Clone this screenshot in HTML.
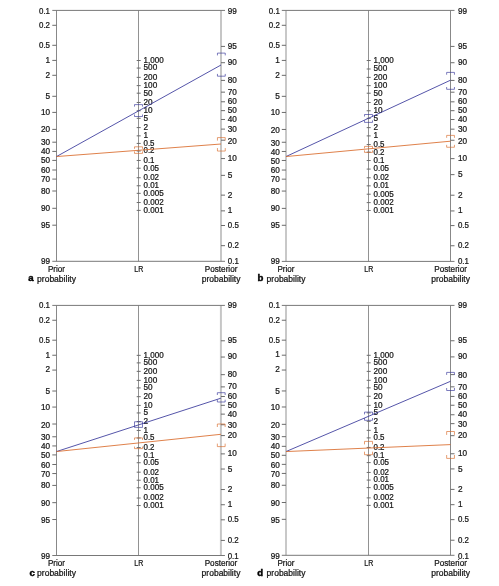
<!DOCTYPE html>
<html lang="en"><head><meta charset="utf-8"><title>Fagan nomograms</title>
<style>
html,body{margin:0;padding:0;background:#fff;}
svg{display:block;}
text{font-family:"Liberation Sans",sans-serif;font-size:8.3px;fill:#161616;stroke:#161616;stroke-width:0.24px;}
text.pl{font-size:9.6px;font-weight:bold;fill:#000;stroke:#000;stroke-width:0.45px;}
</style></head><body>
<svg width="499" height="586" viewBox="0 0 499 586">
<rect width="499" height="586" fill="#fff"/>
<g id="panel-a">
<line x1="56.50" y1="10.40" x2="56.50" y2="261.30" stroke="#888888" stroke-width="1"/>
<line x1="221.00" y1="10.40" x2="221.00" y2="261.30" stroke="#c6c6c6" stroke-width="2"/>
<line x1="138.50" y1="10.40" x2="138.50" y2="261.30" stroke="#929292" stroke-width="1"/>
<line x1="52.30" y1="10.40" x2="225.00" y2="10.40" stroke="#787878" stroke-width="1"/>
<line x1="52.30" y1="261.30" x2="225.00" y2="261.30" stroke="#787878" stroke-width="1"/>
<text x="50.00" y="13.60" text-anchor="end" textLength="11.0" lengthAdjust="spacingAndGlyphs">0.1</text>
<text x="227.80" y="263.70" textLength="11.0" lengthAdjust="spacingAndGlyphs">0.1</text>
<line x1="52.30" y1="25.30" x2="56.50" y2="25.30" stroke="#6c6c6c" stroke-width="1"/>
<text x="50.00" y="27.70" text-anchor="end" textLength="11.0" lengthAdjust="spacingAndGlyphs">0.2</text>
<line x1="221.00" y1="245.66" x2="225.00" y2="245.66" stroke="#6c6c6c" stroke-width="1"/>
<text x="227.80" y="248.06" textLength="11.0" lengthAdjust="spacingAndGlyphs">0.2</text>
<line x1="52.30" y1="45.30" x2="56.50" y2="45.30" stroke="#6c6c6c" stroke-width="1"/>
<text x="50.00" y="47.70" text-anchor="end" textLength="11.0" lengthAdjust="spacingAndGlyphs">0.5</text>
<line x1="221.00" y1="225.50" x2="225.00" y2="225.50" stroke="#6c6c6c" stroke-width="1"/>
<text x="227.80" y="227.90" textLength="11.0" lengthAdjust="spacingAndGlyphs">0.5</text>
<line x1="52.30" y1="60.40" x2="56.50" y2="60.40" stroke="#6c6c6c" stroke-width="1"/>
<text x="50.00" y="62.80" text-anchor="end" textLength="4.6" lengthAdjust="spacingAndGlyphs">1</text>
<line x1="221.00" y1="210.87" x2="225.00" y2="210.87" stroke="#6c6c6c" stroke-width="1"/>
<text x="227.80" y="213.27" textLength="4.6" lengthAdjust="spacingAndGlyphs">1</text>
<line x1="52.30" y1="75.30" x2="56.50" y2="75.30" stroke="#6c6c6c" stroke-width="1"/>
<text x="50.00" y="77.70" text-anchor="end" textLength="4.6" lengthAdjust="spacingAndGlyphs">2</text>
<line x1="221.00" y1="195.13" x2="225.00" y2="195.13" stroke="#6c6c6c" stroke-width="1"/>
<text x="227.80" y="197.53" textLength="4.6" lengthAdjust="spacingAndGlyphs">2</text>
<line x1="52.30" y1="96.30" x2="56.50" y2="96.30" stroke="#6c6c6c" stroke-width="1"/>
<text x="50.00" y="98.70" text-anchor="end" textLength="4.6" lengthAdjust="spacingAndGlyphs">5</text>
<line x1="221.00" y1="175.37" x2="225.00" y2="175.37" stroke="#6c6c6c" stroke-width="1"/>
<text x="227.80" y="178.07" textLength="4.6" lengthAdjust="spacingAndGlyphs">5</text>
<line x1="52.30" y1="112.40" x2="56.50" y2="112.40" stroke="#6c6c6c" stroke-width="1"/>
<text x="50.00" y="114.80" text-anchor="end" textLength="9.1" lengthAdjust="spacingAndGlyphs">10</text>
<line x1="221.00" y1="158.57" x2="225.00" y2="158.57" stroke="#6c6c6c" stroke-width="1"/>
<text x="227.80" y="160.97" textLength="9.1" lengthAdjust="spacingAndGlyphs">10</text>
<line x1="52.30" y1="129.40" x2="56.50" y2="129.40" stroke="#6c6c6c" stroke-width="1"/>
<text x="50.00" y="132.30" text-anchor="end" textLength="9.1" lengthAdjust="spacingAndGlyphs">20</text>
<line x1="221.00" y1="140.20" x2="225.00" y2="140.20" stroke="#6c6c6c" stroke-width="1"/>
<text x="227.80" y="143.90" textLength="9.1" lengthAdjust="spacingAndGlyphs">20</text>
<line x1="52.30" y1="142.20" x2="56.50" y2="142.20" stroke="#6c6c6c" stroke-width="1"/>
<text x="50.00" y="145.10" text-anchor="end" textLength="9.1" lengthAdjust="spacingAndGlyphs">30</text>
<line x1="221.00" y1="129.12" x2="225.00" y2="129.12" stroke="#6c6c6c" stroke-width="1"/>
<text x="227.80" y="131.82" textLength="9.1" lengthAdjust="spacingAndGlyphs">30</text>
<line x1="52.30" y1="151.40" x2="56.50" y2="151.40" stroke="#6c6c6c" stroke-width="1"/>
<text x="50.00" y="154.30" text-anchor="end" textLength="9.1" lengthAdjust="spacingAndGlyphs">40</text>
<line x1="221.00" y1="119.48" x2="225.00" y2="119.48" stroke="#6c6c6c" stroke-width="1"/>
<text x="227.80" y="121.88" textLength="9.1" lengthAdjust="spacingAndGlyphs">40</text>
<line x1="52.30" y1="160.40" x2="56.50" y2="160.40" stroke="#6c6c6c" stroke-width="1"/>
<text x="50.00" y="163.30" text-anchor="end" textLength="9.1" lengthAdjust="spacingAndGlyphs">50</text>
<line x1="221.00" y1="110.64" x2="225.00" y2="110.64" stroke="#6c6c6c" stroke-width="1"/>
<text x="227.80" y="113.04" textLength="9.1" lengthAdjust="spacingAndGlyphs">50</text>
<line x1="52.30" y1="170.00" x2="56.50" y2="170.00" stroke="#6c6c6c" stroke-width="1"/>
<text x="50.00" y="172.90" text-anchor="end" textLength="9.1" lengthAdjust="spacingAndGlyphs">60</text>
<line x1="221.00" y1="101.79" x2="225.00" y2="101.79" stroke="#6c6c6c" stroke-width="1"/>
<text x="227.80" y="104.19" textLength="9.1" lengthAdjust="spacingAndGlyphs">60</text>
<line x1="52.30" y1="179.10" x2="56.50" y2="179.10" stroke="#6c6c6c" stroke-width="1"/>
<text x="50.00" y="182.00" text-anchor="end" textLength="9.1" lengthAdjust="spacingAndGlyphs">70</text>
<line x1="221.00" y1="92.15" x2="225.00" y2="92.15" stroke="#6c6c6c" stroke-width="1"/>
<text x="227.80" y="94.55" textLength="9.1" lengthAdjust="spacingAndGlyphs">70</text>
<line x1="52.30" y1="191.00" x2="56.50" y2="191.00" stroke="#6c6c6c" stroke-width="1"/>
<text x="50.00" y="193.70" text-anchor="end" textLength="9.1" lengthAdjust="spacingAndGlyphs">80</text>
<line x1="221.00" y1="80.40" x2="225.00" y2="80.40" stroke="#6c6c6c" stroke-width="1"/>
<text x="227.80" y="82.80" textLength="9.1" lengthAdjust="spacingAndGlyphs">80</text>
<line x1="52.30" y1="208.30" x2="56.50" y2="208.30" stroke="#6c6c6c" stroke-width="1"/>
<text x="50.00" y="210.70" text-anchor="end" textLength="9.1" lengthAdjust="spacingAndGlyphs">90</text>
<line x1="221.00" y1="62.71" x2="225.00" y2="62.71" stroke="#6c6c6c" stroke-width="1"/>
<text x="227.80" y="65.11" textLength="9.1" lengthAdjust="spacingAndGlyphs">90</text>
<line x1="52.30" y1="225.20" x2="56.50" y2="225.20" stroke="#6c6c6c" stroke-width="1"/>
<text x="50.00" y="227.60" text-anchor="end" textLength="9.1" lengthAdjust="spacingAndGlyphs">95</text>
<line x1="221.00" y1="46.41" x2="225.00" y2="46.41" stroke="#6c6c6c" stroke-width="1"/>
<text x="227.80" y="48.81" textLength="9.1" lengthAdjust="spacingAndGlyphs">95</text>
<text x="50.00" y="263.70" text-anchor="end" textLength="9.1" lengthAdjust="spacingAndGlyphs">99</text>
<text x="227.80" y="13.80" textLength="9.1" lengthAdjust="spacingAndGlyphs">99</text>
<line x1="136.70" y1="60.51" x2="140.70" y2="60.51" stroke="#6c6c6c" stroke-width="1"/>
<text x="143.50" y="62.91" textLength="20.1" lengthAdjust="spacingAndGlyphs">1,000</text>
<line x1="136.70" y1="68.07" x2="140.70" y2="68.07" stroke="#6c6c6c" stroke-width="1"/>
<text x="143.50" y="70.47" textLength="13.7" lengthAdjust="spacingAndGlyphs">500</text>
<line x1="136.70" y1="77.36" x2="140.70" y2="77.36" stroke="#6c6c6c" stroke-width="1"/>
<text x="143.50" y="79.76" textLength="13.7" lengthAdjust="spacingAndGlyphs">200</text>
<line x1="136.70" y1="85.62" x2="140.70" y2="85.62" stroke="#6c6c6c" stroke-width="1"/>
<text x="143.50" y="88.02" textLength="13.7" lengthAdjust="spacingAndGlyphs">100</text>
<line x1="136.70" y1="93.18" x2="140.70" y2="93.18" stroke="#6c6c6c" stroke-width="1"/>
<text x="143.50" y="95.58" textLength="9.1" lengthAdjust="spacingAndGlyphs">50</text>
<line x1="136.70" y1="102.48" x2="140.70" y2="102.48" stroke="#6c6c6c" stroke-width="1"/>
<text x="143.50" y="104.88" textLength="9.1" lengthAdjust="spacingAndGlyphs">20</text>
<line x1="136.70" y1="110.74" x2="140.70" y2="110.74" stroke="#6c6c6c" stroke-width="1"/>
<text x="143.50" y="113.14" textLength="9.1" lengthAdjust="spacingAndGlyphs">10</text>
<line x1="136.70" y1="118.30" x2="140.70" y2="118.30" stroke="#6c6c6c" stroke-width="1"/>
<text x="143.50" y="120.70" textLength="4.6" lengthAdjust="spacingAndGlyphs">5</text>
<line x1="136.70" y1="127.59" x2="140.70" y2="127.59" stroke="#6c6c6c" stroke-width="1"/>
<text x="143.50" y="129.99" textLength="4.6" lengthAdjust="spacingAndGlyphs">2</text>
<line x1="136.70" y1="135.85" x2="140.70" y2="135.85" stroke="#6c6c6c" stroke-width="1"/>
<text x="143.50" y="138.25" textLength="4.6" lengthAdjust="spacingAndGlyphs">1</text>
<line x1="136.70" y1="143.41" x2="140.70" y2="143.41" stroke="#6c6c6c" stroke-width="1"/>
<text x="143.50" y="145.81" textLength="11.0" lengthAdjust="spacingAndGlyphs">0.5</text>
<line x1="136.70" y1="151.00" x2="140.70" y2="151.00" stroke="#6c6c6c" stroke-width="1"/>
<text x="143.50" y="153.40" textLength="11.0" lengthAdjust="spacingAndGlyphs">0.2</text>
<line x1="136.70" y1="160.46" x2="140.70" y2="160.46" stroke="#6c6c6c" stroke-width="1"/>
<text x="143.50" y="162.86" textLength="11.0" lengthAdjust="spacingAndGlyphs">0.1</text>
<line x1="136.70" y1="168.22" x2="140.70" y2="168.22" stroke="#6c6c6c" stroke-width="1"/>
<text x="143.50" y="170.62" textLength="15.5" lengthAdjust="spacingAndGlyphs">0.05</text>
<line x1="136.70" y1="177.72" x2="140.70" y2="177.72" stroke="#6c6c6c" stroke-width="1"/>
<text x="143.50" y="180.12" textLength="15.5" lengthAdjust="spacingAndGlyphs">0.02</text>
<line x1="136.70" y1="185.78" x2="140.70" y2="185.78" stroke="#6c6c6c" stroke-width="1"/>
<text x="143.50" y="188.18" textLength="15.5" lengthAdjust="spacingAndGlyphs">0.01</text>
<line x1="136.70" y1="193.34" x2="140.70" y2="193.34" stroke="#6c6c6c" stroke-width="1"/>
<text x="143.50" y="195.74" textLength="20.1" lengthAdjust="spacingAndGlyphs">0.005</text>
<line x1="136.70" y1="202.53" x2="140.70" y2="202.53" stroke="#6c6c6c" stroke-width="1"/>
<text x="143.50" y="204.93" textLength="20.1" lengthAdjust="spacingAndGlyphs">0.002</text>
<line x1="136.70" y1="210.39" x2="140.70" y2="210.39" stroke="#6c6c6c" stroke-width="1"/>
<text x="143.50" y="212.79" textLength="20.1" lengthAdjust="spacingAndGlyphs">0.001</text>
<line x1="56.50" y1="156.55" x2="221.00" y2="65.00" stroke="#36369a" stroke-width="0.85"/>
<line x1="56.50" y1="156.55" x2="221.00" y2="144.00" stroke="#d96a2a" stroke-width="0.85"/>
<path d="M134.50 106.60V104.60H142.50V106.60M134.50 114.50V116.50H142.50V114.50" fill="none" stroke="#36369a" stroke-width="0.65"/>
<path d="M134.50 148.80V146.80H142.50V148.80M134.50 151.40V153.40H142.50V151.40" fill="none" stroke="#d96a2a" stroke-width="0.65"/>
<path d="M217.45 55.40V53.10H225.25V55.40M217.45 73.90V76.20H225.25V73.90" fill="none" stroke="#36369a" stroke-width="0.65"/>
<path d="M217.45 140.60V137.60H225.25V140.60M217.45 148.05V151.05H225.25V148.05" fill="none" stroke="#d96a2a" stroke-width="0.65"/>
<text x="56.50" y="271.80" text-anchor="middle" textLength="17.1" lengthAdjust="spacingAndGlyphs">Prior</text>
<text x="56.50" y="281.80" text-anchor="middle" textLength="38.9" lengthAdjust="spacingAndGlyphs">probability</text>
<text x="138.80" y="271.80" text-anchor="middle" textLength="9.0" lengthAdjust="spacingAndGlyphs">LR</text>
<text x="221.10" y="271.70" text-anchor="middle" textLength="32.7" lengthAdjust="spacingAndGlyphs">Posterior</text>
<text x="221.10" y="281.60" text-anchor="middle" textLength="38.8" lengthAdjust="spacingAndGlyphs">probability</text>
<text x="28.20" y="280.80" class="pl">a</text>
</g>
<g id="panel-b">
<line x1="286.00" y1="10.40" x2="286.00" y2="261.40" stroke="#c6c6c6" stroke-width="1.9"/>
<line x1="450.50" y1="10.40" x2="450.50" y2="261.40" stroke="#888888" stroke-width="1"/>
<line x1="368.50" y1="10.40" x2="368.50" y2="261.40" stroke="#929292" stroke-width="1"/>
<line x1="281.80" y1="10.40" x2="454.50" y2="10.40" stroke="#787878" stroke-width="1"/>
<line x1="281.80" y1="261.40" x2="454.50" y2="261.40" stroke="#787878" stroke-width="1"/>
<text x="279.80" y="13.60" text-anchor="end" textLength="11.0" lengthAdjust="spacingAndGlyphs">0.1</text>
<text x="457.90" y="263.80" textLength="11.0" lengthAdjust="spacingAndGlyphs">0.1</text>
<line x1="281.80" y1="25.31" x2="286.00" y2="25.31" stroke="#6c6c6c" stroke-width="1"/>
<text x="279.80" y="27.71" text-anchor="end" textLength="11.0" lengthAdjust="spacingAndGlyphs">0.2</text>
<line x1="450.50" y1="245.75" x2="454.50" y2="245.75" stroke="#6c6c6c" stroke-width="1"/>
<text x="457.90" y="248.15" textLength="11.0" lengthAdjust="spacingAndGlyphs">0.2</text>
<line x1="281.80" y1="45.31" x2="286.00" y2="45.31" stroke="#6c6c6c" stroke-width="1"/>
<text x="279.80" y="47.71" text-anchor="end" textLength="11.0" lengthAdjust="spacingAndGlyphs">0.5</text>
<line x1="450.50" y1="225.59" x2="454.50" y2="225.59" stroke="#6c6c6c" stroke-width="1"/>
<text x="457.90" y="227.99" textLength="11.0" lengthAdjust="spacingAndGlyphs">0.5</text>
<line x1="281.80" y1="60.42" x2="286.00" y2="60.42" stroke="#6c6c6c" stroke-width="1"/>
<text x="279.80" y="62.82" text-anchor="end" textLength="4.6" lengthAdjust="spacingAndGlyphs">1</text>
<line x1="450.50" y1="210.95" x2="454.50" y2="210.95" stroke="#6c6c6c" stroke-width="1"/>
<text x="457.90" y="213.35" textLength="4.6" lengthAdjust="spacingAndGlyphs">1</text>
<line x1="281.80" y1="75.33" x2="286.00" y2="75.33" stroke="#6c6c6c" stroke-width="1"/>
<text x="279.80" y="77.73" text-anchor="end" textLength="4.6" lengthAdjust="spacingAndGlyphs">2</text>
<line x1="450.50" y1="195.21" x2="454.50" y2="195.21" stroke="#6c6c6c" stroke-width="1"/>
<text x="457.90" y="197.61" textLength="4.6" lengthAdjust="spacingAndGlyphs">2</text>
<line x1="281.80" y1="96.33" x2="286.00" y2="96.33" stroke="#6c6c6c" stroke-width="1"/>
<text x="279.80" y="98.73" text-anchor="end" textLength="4.6" lengthAdjust="spacingAndGlyphs">5</text>
<line x1="450.50" y1="174.63" x2="454.50" y2="174.63" stroke="#6c6c6c" stroke-width="1"/>
<text x="457.90" y="177.33" textLength="4.6" lengthAdjust="spacingAndGlyphs">5</text>
<line x1="281.80" y1="112.44" x2="286.00" y2="112.44" stroke="#6c6c6c" stroke-width="1"/>
<text x="279.80" y="114.84" text-anchor="end" textLength="9.1" lengthAdjust="spacingAndGlyphs">10</text>
<line x1="450.50" y1="158.63" x2="454.50" y2="158.63" stroke="#6c6c6c" stroke-width="1"/>
<text x="457.90" y="161.03" textLength="9.1" lengthAdjust="spacingAndGlyphs">10</text>
<line x1="281.80" y1="129.45" x2="286.00" y2="129.45" stroke="#6c6c6c" stroke-width="1"/>
<text x="279.80" y="132.75" text-anchor="end" textLength="9.1" lengthAdjust="spacingAndGlyphs">20</text>
<line x1="450.50" y1="140.25" x2="454.50" y2="140.25" stroke="#6c6c6c" stroke-width="1"/>
<text x="457.90" y="143.95" textLength="9.1" lengthAdjust="spacingAndGlyphs">20</text>
<line x1="281.80" y1="142.25" x2="286.00" y2="142.25" stroke="#6c6c6c" stroke-width="1"/>
<text x="279.80" y="145.55" text-anchor="end" textLength="9.1" lengthAdjust="spacingAndGlyphs">30</text>
<line x1="450.50" y1="129.17" x2="454.50" y2="129.17" stroke="#6c6c6c" stroke-width="1"/>
<text x="457.90" y="131.87" textLength="9.1" lengthAdjust="spacingAndGlyphs">30</text>
<line x1="281.80" y1="151.46" x2="286.00" y2="151.46" stroke="#6c6c6c" stroke-width="1"/>
<text x="279.80" y="154.76" text-anchor="end" textLength="9.1" lengthAdjust="spacingAndGlyphs">40</text>
<line x1="450.50" y1="119.53" x2="454.50" y2="119.53" stroke="#6c6c6c" stroke-width="1"/>
<text x="457.90" y="121.93" textLength="9.1" lengthAdjust="spacingAndGlyphs">40</text>
<line x1="281.80" y1="160.46" x2="286.00" y2="160.46" stroke="#6c6c6c" stroke-width="1"/>
<text x="279.80" y="163.76" text-anchor="end" textLength="9.1" lengthAdjust="spacingAndGlyphs">50</text>
<line x1="450.50" y1="110.68" x2="454.50" y2="110.68" stroke="#6c6c6c" stroke-width="1"/>
<text x="457.90" y="113.08" textLength="9.1" lengthAdjust="spacingAndGlyphs">50</text>
<line x1="281.80" y1="170.06" x2="286.00" y2="170.06" stroke="#6c6c6c" stroke-width="1"/>
<text x="279.80" y="173.36" text-anchor="end" textLength="9.1" lengthAdjust="spacingAndGlyphs">60</text>
<line x1="450.50" y1="101.83" x2="454.50" y2="101.83" stroke="#6c6c6c" stroke-width="1"/>
<text x="457.90" y="104.23" textLength="9.1" lengthAdjust="spacingAndGlyphs">60</text>
<line x1="281.80" y1="179.17" x2="286.00" y2="179.17" stroke="#6c6c6c" stroke-width="1"/>
<text x="279.80" y="182.47" text-anchor="end" textLength="9.1" lengthAdjust="spacingAndGlyphs">70</text>
<line x1="450.50" y1="92.19" x2="454.50" y2="92.19" stroke="#6c6c6c" stroke-width="1"/>
<text x="457.90" y="94.59" textLength="9.1" lengthAdjust="spacingAndGlyphs">70</text>
<line x1="281.80" y1="191.07" x2="286.00" y2="191.07" stroke="#6c6c6c" stroke-width="1"/>
<text x="279.80" y="193.77" text-anchor="end" textLength="9.1" lengthAdjust="spacingAndGlyphs">80</text>
<line x1="450.50" y1="80.42" x2="454.50" y2="80.42" stroke="#6c6c6c" stroke-width="1"/>
<text x="457.90" y="82.82" textLength="9.1" lengthAdjust="spacingAndGlyphs">80</text>
<line x1="281.80" y1="208.38" x2="286.00" y2="208.38" stroke="#6c6c6c" stroke-width="1"/>
<text x="279.80" y="210.78" text-anchor="end" textLength="9.1" lengthAdjust="spacingAndGlyphs">90</text>
<line x1="450.50" y1="62.73" x2="454.50" y2="62.73" stroke="#6c6c6c" stroke-width="1"/>
<text x="457.90" y="65.13" textLength="9.1" lengthAdjust="spacingAndGlyphs">90</text>
<line x1="281.80" y1="225.29" x2="286.00" y2="225.29" stroke="#6c6c6c" stroke-width="1"/>
<text x="279.80" y="227.69" text-anchor="end" textLength="9.1" lengthAdjust="spacingAndGlyphs">95</text>
<line x1="450.50" y1="46.42" x2="454.50" y2="46.42" stroke="#6c6c6c" stroke-width="1"/>
<text x="457.90" y="48.82" textLength="9.1" lengthAdjust="spacingAndGlyphs">95</text>
<text x="279.80" y="263.80" text-anchor="end" textLength="9.1" lengthAdjust="spacingAndGlyphs">99</text>
<text x="457.90" y="13.80" textLength="9.1" lengthAdjust="spacingAndGlyphs">99</text>
<line x1="366.70" y1="60.53" x2="370.70" y2="60.53" stroke="#6c6c6c" stroke-width="1"/>
<text x="373.50" y="62.93" textLength="20.1" lengthAdjust="spacingAndGlyphs">1,000</text>
<line x1="366.70" y1="68.99" x2="370.70" y2="68.99" stroke="#6c6c6c" stroke-width="1"/>
<text x="373.50" y="71.39" textLength="13.7" lengthAdjust="spacingAndGlyphs">500</text>
<line x1="366.70" y1="77.39" x2="370.70" y2="77.39" stroke="#6c6c6c" stroke-width="1"/>
<text x="373.50" y="79.79" textLength="13.7" lengthAdjust="spacingAndGlyphs">200</text>
<line x1="366.70" y1="85.65" x2="370.70" y2="85.65" stroke="#6c6c6c" stroke-width="1"/>
<text x="373.50" y="88.05" textLength="13.7" lengthAdjust="spacingAndGlyphs">100</text>
<line x1="366.70" y1="93.21" x2="370.70" y2="93.21" stroke="#6c6c6c" stroke-width="1"/>
<text x="373.50" y="95.61" textLength="9.1" lengthAdjust="spacingAndGlyphs">50</text>
<line x1="366.70" y1="102.51" x2="370.70" y2="102.51" stroke="#6c6c6c" stroke-width="1"/>
<text x="373.50" y="104.91" textLength="9.1" lengthAdjust="spacingAndGlyphs">20</text>
<line x1="366.70" y1="110.78" x2="370.70" y2="110.78" stroke="#6c6c6c" stroke-width="1"/>
<text x="373.50" y="113.18" textLength="9.1" lengthAdjust="spacingAndGlyphs">10</text>
<line x1="366.70" y1="118.34" x2="370.70" y2="118.34" stroke="#6c6c6c" stroke-width="1"/>
<text x="373.50" y="120.74" textLength="4.6" lengthAdjust="spacingAndGlyphs">5</text>
<line x1="366.70" y1="127.64" x2="370.70" y2="127.64" stroke="#6c6c6c" stroke-width="1"/>
<text x="373.50" y="130.04" textLength="4.6" lengthAdjust="spacingAndGlyphs">2</text>
<line x1="366.70" y1="135.90" x2="370.70" y2="135.90" stroke="#6c6c6c" stroke-width="1"/>
<text x="373.50" y="138.30" textLength="4.6" lengthAdjust="spacingAndGlyphs">1</text>
<line x1="366.70" y1="144.56" x2="370.70" y2="144.56" stroke="#6c6c6c" stroke-width="1"/>
<text x="373.50" y="146.96" textLength="11.0" lengthAdjust="spacingAndGlyphs">0.5</text>
<line x1="366.70" y1="152.16" x2="370.70" y2="152.16" stroke="#6c6c6c" stroke-width="1"/>
<text x="373.50" y="154.56" textLength="11.0" lengthAdjust="spacingAndGlyphs">0.2</text>
<line x1="366.70" y1="160.52" x2="370.70" y2="160.52" stroke="#6c6c6c" stroke-width="1"/>
<text x="373.50" y="162.92" textLength="11.0" lengthAdjust="spacingAndGlyphs">0.1</text>
<line x1="366.70" y1="169.09" x2="370.70" y2="169.09" stroke="#6c6c6c" stroke-width="1"/>
<text x="373.50" y="171.49" textLength="15.5" lengthAdjust="spacingAndGlyphs">0.05</text>
<line x1="366.70" y1="177.78" x2="370.70" y2="177.78" stroke="#6c6c6c" stroke-width="1"/>
<text x="373.50" y="180.18" textLength="15.5" lengthAdjust="spacingAndGlyphs">0.02</text>
<line x1="366.70" y1="185.85" x2="370.70" y2="185.85" stroke="#6c6c6c" stroke-width="1"/>
<text x="373.50" y="188.25" textLength="15.5" lengthAdjust="spacingAndGlyphs">0.01</text>
<line x1="366.70" y1="194.21" x2="370.70" y2="194.21" stroke="#6c6c6c" stroke-width="1"/>
<text x="373.50" y="196.61" textLength="20.1" lengthAdjust="spacingAndGlyphs">0.005</text>
<line x1="366.70" y1="202.61" x2="370.70" y2="202.61" stroke="#6c6c6c" stroke-width="1"/>
<text x="373.50" y="205.01" textLength="20.1" lengthAdjust="spacingAndGlyphs">0.002</text>
<line x1="366.70" y1="210.47" x2="370.70" y2="210.47" stroke="#6c6c6c" stroke-width="1"/>
<text x="373.50" y="212.87" textLength="20.1" lengthAdjust="spacingAndGlyphs">0.001</text>
<line x1="286.00" y1="156.55" x2="450.50" y2="80.20" stroke="#36369a" stroke-width="0.85"/>
<line x1="286.00" y1="156.55" x2="450.50" y2="141.20" stroke="#d96a2a" stroke-width="0.85"/>
<path d="M364.50 116.50V114.50H372.50V116.50M364.50 120.40V122.40H372.50V120.40" fill="none" stroke="#36369a" stroke-width="0.65"/>
<path d="M364.50 148.40V146.40H372.50V148.40M364.50 150.40V152.40H372.50V150.40" fill="none" stroke="#d96a2a" stroke-width="0.65"/>
<path d="M446.65 74.70V72.40H454.45V74.70M446.65 87.00V89.30H454.45V87.00" fill="none" stroke="#36369a" stroke-width="0.65"/>
<path d="M446.65 137.80V135.40H454.45V137.80M446.65 144.85V147.25H454.45V144.85" fill="none" stroke="#d96a2a" stroke-width="0.65"/>
<text x="286.00" y="271.90" text-anchor="middle" textLength="17.1" lengthAdjust="spacingAndGlyphs">Prior</text>
<text x="286.00" y="281.90" text-anchor="middle" textLength="38.9" lengthAdjust="spacingAndGlyphs">probability</text>
<text x="368.80" y="271.90" text-anchor="middle" textLength="9.0" lengthAdjust="spacingAndGlyphs">LR</text>
<text x="450.60" y="271.80" text-anchor="middle" textLength="32.7" lengthAdjust="spacingAndGlyphs">Posterior</text>
<text x="450.60" y="281.70" text-anchor="middle" textLength="38.8" lengthAdjust="spacingAndGlyphs">probability</text>
<text x="257.40" y="280.80" class="pl">b</text>
</g>
<g id="panel-c">
<line x1="56.50" y1="305.40" x2="56.50" y2="555.50" stroke="#888888" stroke-width="1"/>
<line x1="220.90" y1="305.40" x2="220.90" y2="555.50" stroke="#c6c6c6" stroke-width="2"/>
<line x1="138.50" y1="305.40" x2="138.50" y2="555.50" stroke="#929292" stroke-width="1"/>
<line x1="52.30" y1="305.40" x2="224.90" y2="305.40" stroke="#787878" stroke-width="1"/>
<line x1="52.30" y1="555.50" x2="224.90" y2="555.50" stroke="#787878" stroke-width="1"/>
<text x="50.00" y="307.60" text-anchor="end" textLength="11.0" lengthAdjust="spacingAndGlyphs">0.1</text>
<text x="227.70" y="558.70" textLength="11.0" lengthAdjust="spacingAndGlyphs">0.1</text>
<line x1="52.30" y1="320.25" x2="56.50" y2="320.25" stroke="#6c6c6c" stroke-width="1"/>
<text x="50.00" y="322.65" text-anchor="end" textLength="11.0" lengthAdjust="spacingAndGlyphs">0.2</text>
<line x1="220.90" y1="540.41" x2="224.90" y2="540.41" stroke="#6c6c6c" stroke-width="1"/>
<text x="227.70" y="542.81" textLength="11.0" lengthAdjust="spacingAndGlyphs">0.2</text>
<line x1="52.30" y1="340.19" x2="56.50" y2="340.19" stroke="#6c6c6c" stroke-width="1"/>
<text x="50.00" y="342.59" text-anchor="end" textLength="11.0" lengthAdjust="spacingAndGlyphs">0.5</text>
<line x1="220.90" y1="519.82" x2="224.90" y2="519.82" stroke="#6c6c6c" stroke-width="1"/>
<text x="227.70" y="522.22" textLength="11.0" lengthAdjust="spacingAndGlyphs">0.5</text>
<line x1="52.30" y1="355.24" x2="56.50" y2="355.24" stroke="#6c6c6c" stroke-width="1"/>
<text x="50.00" y="357.64" text-anchor="end" textLength="4.6" lengthAdjust="spacingAndGlyphs">1</text>
<line x1="220.90" y1="504.74" x2="224.90" y2="504.74" stroke="#6c6c6c" stroke-width="1"/>
<text x="227.70" y="507.14" textLength="4.6" lengthAdjust="spacingAndGlyphs">1</text>
<line x1="52.30" y1="370.09" x2="56.50" y2="370.09" stroke="#6c6c6c" stroke-width="1"/>
<text x="50.00" y="372.49" text-anchor="end" textLength="4.6" lengthAdjust="spacingAndGlyphs">2</text>
<line x1="220.90" y1="489.54" x2="224.90" y2="489.54" stroke="#6c6c6c" stroke-width="1"/>
<text x="227.70" y="491.94" textLength="4.6" lengthAdjust="spacingAndGlyphs">2</text>
<line x1="52.30" y1="391.03" x2="56.50" y2="391.03" stroke="#6c6c6c" stroke-width="1"/>
<text x="50.00" y="394.23" text-anchor="end" textLength="4.6" lengthAdjust="spacingAndGlyphs">5</text>
<line x1="220.90" y1="469.04" x2="224.90" y2="469.04" stroke="#6c6c6c" stroke-width="1"/>
<text x="227.70" y="471.74" textLength="4.6" lengthAdjust="spacingAndGlyphs">5</text>
<line x1="52.30" y1="407.07" x2="56.50" y2="407.07" stroke="#6c6c6c" stroke-width="1"/>
<text x="50.00" y="410.27" text-anchor="end" textLength="9.1" lengthAdjust="spacingAndGlyphs">10</text>
<line x1="220.90" y1="453.89" x2="224.90" y2="453.89" stroke="#6c6c6c" stroke-width="1"/>
<text x="227.70" y="456.29" textLength="9.1" lengthAdjust="spacingAndGlyphs">10</text>
<line x1="52.30" y1="424.02" x2="56.50" y2="424.02" stroke="#6c6c6c" stroke-width="1"/>
<text x="50.00" y="427.52" text-anchor="end" textLength="9.1" lengthAdjust="spacingAndGlyphs">20</text>
<line x1="220.90" y1="435.59" x2="224.90" y2="435.59" stroke="#6c6c6c" stroke-width="1"/>
<text x="227.70" y="438.49" textLength="9.1" lengthAdjust="spacingAndGlyphs">20</text>
<line x1="52.30" y1="436.78" x2="56.50" y2="436.78" stroke="#6c6c6c" stroke-width="1"/>
<text x="50.00" y="440.08" text-anchor="end" textLength="9.1" lengthAdjust="spacingAndGlyphs">30</text>
<line x1="220.90" y1="424.74" x2="224.90" y2="424.74" stroke="#6c6c6c" stroke-width="1"/>
<text x="227.70" y="427.74" textLength="9.1" lengthAdjust="spacingAndGlyphs">30</text>
<line x1="52.30" y1="445.95" x2="56.50" y2="445.95" stroke="#6c6c6c" stroke-width="1"/>
<text x="50.00" y="449.25" text-anchor="end" textLength="9.1" lengthAdjust="spacingAndGlyphs">40</text>
<line x1="220.90" y1="414.13" x2="224.90" y2="414.13" stroke="#6c6c6c" stroke-width="1"/>
<text x="227.70" y="416.53" textLength="9.1" lengthAdjust="spacingAndGlyphs">40</text>
<line x1="52.30" y1="454.92" x2="56.50" y2="454.92" stroke="#6c6c6c" stroke-width="1"/>
<text x="50.00" y="458.22" text-anchor="end" textLength="9.1" lengthAdjust="spacingAndGlyphs">50</text>
<line x1="220.90" y1="405.32" x2="224.90" y2="405.32" stroke="#6c6c6c" stroke-width="1"/>
<text x="227.70" y="407.72" textLength="9.1" lengthAdjust="spacingAndGlyphs">50</text>
<line x1="52.30" y1="464.49" x2="56.50" y2="464.49" stroke="#6c6c6c" stroke-width="1"/>
<text x="50.00" y="467.79" text-anchor="end" textLength="9.1" lengthAdjust="spacingAndGlyphs">60</text>
<line x1="220.90" y1="396.50" x2="224.90" y2="396.50" stroke="#6c6c6c" stroke-width="1"/>
<text x="227.70" y="398.90" textLength="9.1" lengthAdjust="spacingAndGlyphs">60</text>
<line x1="52.30" y1="473.56" x2="56.50" y2="473.56" stroke="#6c6c6c" stroke-width="1"/>
<text x="50.00" y="476.86" text-anchor="end" textLength="9.1" lengthAdjust="spacingAndGlyphs">70</text>
<line x1="220.90" y1="386.89" x2="224.90" y2="386.89" stroke="#6c6c6c" stroke-width="1"/>
<text x="227.70" y="389.29" textLength="9.1" lengthAdjust="spacingAndGlyphs">70</text>
<line x1="52.30" y1="485.42" x2="56.50" y2="485.42" stroke="#6c6c6c" stroke-width="1"/>
<text x="50.00" y="488.42" text-anchor="end" textLength="9.1" lengthAdjust="spacingAndGlyphs">80</text>
<line x1="220.90" y1="374.67" x2="224.90" y2="374.67" stroke="#6c6c6c" stroke-width="1"/>
<text x="227.70" y="377.07" textLength="9.1" lengthAdjust="spacingAndGlyphs">80</text>
<line x1="52.30" y1="502.67" x2="56.50" y2="502.67" stroke="#6c6c6c" stroke-width="1"/>
<text x="50.00" y="505.87" text-anchor="end" textLength="9.1" lengthAdjust="spacingAndGlyphs">90</text>
<line x1="220.90" y1="357.04" x2="224.90" y2="357.04" stroke="#6c6c6c" stroke-width="1"/>
<text x="227.70" y="359.44" textLength="9.1" lengthAdjust="spacingAndGlyphs">90</text>
<line x1="52.30" y1="519.52" x2="56.50" y2="519.52" stroke="#6c6c6c" stroke-width="1"/>
<text x="50.00" y="522.72" text-anchor="end" textLength="9.1" lengthAdjust="spacingAndGlyphs">95</text>
<line x1="220.90" y1="340.79" x2="224.90" y2="340.79" stroke="#6c6c6c" stroke-width="1"/>
<text x="227.70" y="343.19" textLength="9.1" lengthAdjust="spacingAndGlyphs">95</text>
<text x="50.00" y="559.00" text-anchor="end" textLength="9.1" lengthAdjust="spacingAndGlyphs">99</text>
<text x="227.70" y="307.80" textLength="9.1" lengthAdjust="spacingAndGlyphs">99</text>
<line x1="136.70" y1="355.35" x2="140.70" y2="355.35" stroke="#6c6c6c" stroke-width="1"/>
<text x="143.50" y="357.75" textLength="20.1" lengthAdjust="spacingAndGlyphs">1,000</text>
<line x1="136.70" y1="362.88" x2="140.70" y2="362.88" stroke="#6c6c6c" stroke-width="1"/>
<text x="143.50" y="365.28" textLength="13.7" lengthAdjust="spacingAndGlyphs">500</text>
<line x1="136.70" y1="371.35" x2="140.70" y2="371.35" stroke="#6c6c6c" stroke-width="1"/>
<text x="143.50" y="373.75" textLength="13.7" lengthAdjust="spacingAndGlyphs">200</text>
<line x1="136.70" y1="380.38" x2="140.70" y2="380.38" stroke="#6c6c6c" stroke-width="1"/>
<text x="143.50" y="382.78" textLength="13.7" lengthAdjust="spacingAndGlyphs">100</text>
<line x1="136.70" y1="387.92" x2="140.70" y2="387.92" stroke="#6c6c6c" stroke-width="1"/>
<text x="143.50" y="390.32" textLength="9.1" lengthAdjust="spacingAndGlyphs">50</text>
<line x1="136.70" y1="396.68" x2="140.70" y2="396.68" stroke="#6c6c6c" stroke-width="1"/>
<text x="143.50" y="399.08" textLength="9.1" lengthAdjust="spacingAndGlyphs">20</text>
<line x1="136.70" y1="405.42" x2="140.70" y2="405.42" stroke="#6c6c6c" stroke-width="1"/>
<text x="143.50" y="407.82" textLength="9.1" lengthAdjust="spacingAndGlyphs">10</text>
<line x1="136.70" y1="412.95" x2="140.70" y2="412.95" stroke="#6c6c6c" stroke-width="1"/>
<text x="143.50" y="415.35" textLength="4.6" lengthAdjust="spacingAndGlyphs">5</text>
<line x1="136.70" y1="421.62" x2="140.70" y2="421.62" stroke="#6c6c6c" stroke-width="1"/>
<text x="143.50" y="424.02" textLength="4.6" lengthAdjust="spacingAndGlyphs">2</text>
<line x1="136.70" y1="430.45" x2="140.70" y2="430.45" stroke="#6c6c6c" stroke-width="1"/>
<text x="143.50" y="432.85" textLength="4.6" lengthAdjust="spacingAndGlyphs">1</text>
<line x1="136.70" y1="437.99" x2="140.70" y2="437.99" stroke="#6c6c6c" stroke-width="1"/>
<text x="143.50" y="440.39" textLength="11.0" lengthAdjust="spacingAndGlyphs">0.5</text>
<line x1="136.70" y1="447.56" x2="140.70" y2="447.56" stroke="#6c6c6c" stroke-width="1"/>
<text x="143.50" y="449.96" textLength="11.0" lengthAdjust="spacingAndGlyphs">0.2</text>
<line x1="136.70" y1="455.79" x2="140.70" y2="455.79" stroke="#6c6c6c" stroke-width="1"/>
<text x="143.50" y="458.19" textLength="11.0" lengthAdjust="spacingAndGlyphs">0.1</text>
<line x1="136.70" y1="462.72" x2="140.70" y2="462.72" stroke="#6c6c6c" stroke-width="1"/>
<text x="143.50" y="465.12" textLength="15.5" lengthAdjust="spacingAndGlyphs">0.05</text>
<line x1="136.70" y1="472.18" x2="140.70" y2="472.18" stroke="#6c6c6c" stroke-width="1"/>
<text x="143.50" y="474.58" textLength="15.5" lengthAdjust="spacingAndGlyphs">0.02</text>
<line x1="136.70" y1="480.22" x2="140.70" y2="480.22" stroke="#6c6c6c" stroke-width="1"/>
<text x="143.50" y="482.62" textLength="15.5" lengthAdjust="spacingAndGlyphs">0.01</text>
<line x1="136.70" y1="487.76" x2="140.70" y2="487.76" stroke="#6c6c6c" stroke-width="1"/>
<text x="143.50" y="490.16" textLength="20.1" lengthAdjust="spacingAndGlyphs">0.005</text>
<line x1="136.70" y1="498.02" x2="140.70" y2="498.02" stroke="#6c6c6c" stroke-width="1"/>
<text x="143.50" y="500.42" textLength="20.1" lengthAdjust="spacingAndGlyphs">0.002</text>
<line x1="136.70" y1="505.55" x2="140.70" y2="505.55" stroke="#6c6c6c" stroke-width="1"/>
<text x="143.50" y="507.95" textLength="20.1" lengthAdjust="spacingAndGlyphs">0.001</text>
<line x1="56.50" y1="451.55" x2="220.90" y2="398.20" stroke="#36369a" stroke-width="0.85"/>
<line x1="56.50" y1="451.55" x2="220.90" y2="434.30" stroke="#d96a2a" stroke-width="0.85"/>
<path d="M134.50 424.65V421.75H142.50V424.65M134.50 424.50V427.40H142.50V424.50" fill="none" stroke="#36369a" stroke-width="0.65"/>
<path d="M134.50 439.90V437.90H142.50V439.90M134.50 446.60V448.60H142.50V446.60" fill="none" stroke="#d96a2a" stroke-width="0.65"/>
<path d="M217.35 395.00V392.70H225.15V395.00M217.35 399.70V402.00H225.15V399.70" fill="none" stroke="#36369a" stroke-width="0.65"/>
<path d="M217.35 427.00V424.00H225.15V427.00M217.35 443.60V446.60H225.15V443.60" fill="none" stroke="#d96a2a" stroke-width="0.65"/>
<text x="56.50" y="566.00" text-anchor="middle" textLength="17.1" lengthAdjust="spacingAndGlyphs">Prior</text>
<text x="56.50" y="576.00" text-anchor="middle" textLength="38.9" lengthAdjust="spacingAndGlyphs">probability</text>
<text x="138.80" y="566.00" text-anchor="middle" textLength="9.0" lengthAdjust="spacingAndGlyphs">LR</text>
<text x="221.00" y="565.90" text-anchor="middle" textLength="32.7" lengthAdjust="spacingAndGlyphs">Posterior</text>
<text x="221.00" y="575.80" text-anchor="middle" textLength="38.8" lengthAdjust="spacingAndGlyphs">probability</text>
<text x="29.40" y="575.80" class="pl">c</text>
</g>
<g id="panel-d">
<line x1="286.00" y1="305.40" x2="286.00" y2="555.30" stroke="#c6c6c6" stroke-width="1.9"/>
<line x1="450.50" y1="305.40" x2="450.50" y2="555.30" stroke="#888888" stroke-width="1"/>
<line x1="368.50" y1="305.40" x2="368.50" y2="555.30" stroke="#929292" stroke-width="1"/>
<line x1="281.80" y1="305.40" x2="454.50" y2="305.40" stroke="#787878" stroke-width="1"/>
<line x1="281.80" y1="555.30" x2="454.50" y2="555.30" stroke="#787878" stroke-width="1"/>
<text x="279.80" y="307.60" text-anchor="end" textLength="11.0" lengthAdjust="spacingAndGlyphs">0.1</text>
<text x="457.90" y="558.50" textLength="11.0" lengthAdjust="spacingAndGlyphs">0.1</text>
<line x1="281.80" y1="320.24" x2="286.00" y2="320.24" stroke="#6c6c6c" stroke-width="1"/>
<text x="279.80" y="322.64" text-anchor="end" textLength="11.0" lengthAdjust="spacingAndGlyphs">0.2</text>
<line x1="450.50" y1="540.22" x2="454.50" y2="540.22" stroke="#6c6c6c" stroke-width="1"/>
<text x="457.90" y="542.62" textLength="11.0" lengthAdjust="spacingAndGlyphs">0.2</text>
<line x1="281.80" y1="340.16" x2="286.00" y2="340.16" stroke="#6c6c6c" stroke-width="1"/>
<text x="279.80" y="342.56" text-anchor="end" textLength="11.0" lengthAdjust="spacingAndGlyphs">0.5</text>
<line x1="450.50" y1="519.65" x2="454.50" y2="519.65" stroke="#6c6c6c" stroke-width="1"/>
<text x="457.90" y="522.05" textLength="11.0" lengthAdjust="spacingAndGlyphs">0.5</text>
<line x1="281.80" y1="355.20" x2="286.00" y2="355.20" stroke="#6c6c6c" stroke-width="1"/>
<text x="279.80" y="357.10" text-anchor="end" textLength="4.6" lengthAdjust="spacingAndGlyphs">1</text>
<line x1="450.50" y1="504.68" x2="454.50" y2="504.68" stroke="#6c6c6c" stroke-width="1"/>
<text x="457.90" y="507.08" textLength="4.6" lengthAdjust="spacingAndGlyphs">1</text>
<line x1="281.80" y1="370.04" x2="286.00" y2="370.04" stroke="#6c6c6c" stroke-width="1"/>
<text x="279.80" y="372.44" text-anchor="end" textLength="4.6" lengthAdjust="spacingAndGlyphs">2</text>
<line x1="450.50" y1="489.40" x2="454.50" y2="489.40" stroke="#6c6c6c" stroke-width="1"/>
<text x="457.90" y="491.80" textLength="4.6" lengthAdjust="spacingAndGlyphs">2</text>
<line x1="281.80" y1="390.96" x2="286.00" y2="390.96" stroke="#6c6c6c" stroke-width="1"/>
<text x="279.80" y="394.16" text-anchor="end" textLength="4.6" lengthAdjust="spacingAndGlyphs">5</text>
<line x1="450.50" y1="468.91" x2="454.50" y2="468.91" stroke="#6c6c6c" stroke-width="1"/>
<text x="457.90" y="471.61" textLength="4.6" lengthAdjust="spacingAndGlyphs">5</text>
<line x1="281.80" y1="406.99" x2="286.00" y2="406.99" stroke="#6c6c6c" stroke-width="1"/>
<text x="279.80" y="410.19" text-anchor="end" textLength="9.1" lengthAdjust="spacingAndGlyphs">10</text>
<line x1="450.50" y1="453.78" x2="454.50" y2="453.78" stroke="#6c6c6c" stroke-width="1"/>
<text x="457.90" y="456.18" textLength="9.1" lengthAdjust="spacingAndGlyphs">10</text>
<line x1="281.80" y1="424.33" x2="286.00" y2="424.33" stroke="#6c6c6c" stroke-width="1"/>
<text x="279.80" y="427.63" text-anchor="end" textLength="9.1" lengthAdjust="spacingAndGlyphs">20</text>
<line x1="450.50" y1="435.68" x2="454.50" y2="435.68" stroke="#6c6c6c" stroke-width="1"/>
<text x="457.90" y="438.38" textLength="9.1" lengthAdjust="spacingAndGlyphs">20</text>
<line x1="281.80" y1="436.67" x2="286.00" y2="436.67" stroke="#6c6c6c" stroke-width="1"/>
<text x="279.80" y="439.97" text-anchor="end" textLength="9.1" lengthAdjust="spacingAndGlyphs">30</text>
<line x1="450.50" y1="423.65" x2="454.50" y2="423.65" stroke="#6c6c6c" stroke-width="1"/>
<text x="457.90" y="426.85" textLength="9.1" lengthAdjust="spacingAndGlyphs">30</text>
<line x1="281.80" y1="446.34" x2="286.00" y2="446.34" stroke="#6c6c6c" stroke-width="1"/>
<text x="279.80" y="449.24" text-anchor="end" textLength="9.1" lengthAdjust="spacingAndGlyphs">40</text>
<line x1="450.50" y1="414.75" x2="454.50" y2="414.75" stroke="#6c6c6c" stroke-width="1"/>
<text x="457.90" y="417.15" textLength="9.1" lengthAdjust="spacingAndGlyphs">40</text>
<line x1="281.80" y1="455.30" x2="286.00" y2="455.30" stroke="#6c6c6c" stroke-width="1"/>
<text x="279.80" y="458.30" text-anchor="end" textLength="9.1" lengthAdjust="spacingAndGlyphs">50</text>
<line x1="450.50" y1="405.24" x2="454.50" y2="405.24" stroke="#6c6c6c" stroke-width="1"/>
<text x="457.90" y="407.64" textLength="9.1" lengthAdjust="spacingAndGlyphs">50</text>
<line x1="281.80" y1="464.36" x2="286.00" y2="464.36" stroke="#6c6c6c" stroke-width="1"/>
<text x="279.80" y="467.66" text-anchor="end" textLength="9.1" lengthAdjust="spacingAndGlyphs">60</text>
<line x1="450.50" y1="396.43" x2="454.50" y2="396.43" stroke="#6c6c6c" stroke-width="1"/>
<text x="457.90" y="398.83" textLength="9.1" lengthAdjust="spacingAndGlyphs">60</text>
<line x1="281.80" y1="473.43" x2="286.00" y2="473.43" stroke="#6c6c6c" stroke-width="1"/>
<text x="279.80" y="476.73" text-anchor="end" textLength="9.1" lengthAdjust="spacingAndGlyphs">70</text>
<line x1="450.50" y1="386.83" x2="454.50" y2="386.83" stroke="#6c6c6c" stroke-width="1"/>
<text x="457.90" y="390.13" textLength="9.1" lengthAdjust="spacingAndGlyphs">70</text>
<line x1="281.80" y1="485.28" x2="286.00" y2="485.28" stroke="#6c6c6c" stroke-width="1"/>
<text x="279.80" y="488.28" text-anchor="end" textLength="9.1" lengthAdjust="spacingAndGlyphs">80</text>
<line x1="450.50" y1="374.62" x2="454.50" y2="374.62" stroke="#6c6c6c" stroke-width="1"/>
<text x="457.90" y="377.92" textLength="9.1" lengthAdjust="spacingAndGlyphs">80</text>
<line x1="281.80" y1="502.51" x2="286.00" y2="502.51" stroke="#6c6c6c" stroke-width="1"/>
<text x="279.80" y="505.71" text-anchor="end" textLength="9.1" lengthAdjust="spacingAndGlyphs">90</text>
<line x1="450.50" y1="356.90" x2="454.50" y2="356.90" stroke="#6c6c6c" stroke-width="1"/>
<text x="457.90" y="359.30" textLength="9.1" lengthAdjust="spacingAndGlyphs">90</text>
<line x1="281.80" y1="519.34" x2="286.00" y2="519.34" stroke="#6c6c6c" stroke-width="1"/>
<text x="279.80" y="522.54" text-anchor="end" textLength="9.1" lengthAdjust="spacingAndGlyphs">95</text>
<line x1="450.50" y1="340.76" x2="454.50" y2="340.76" stroke="#6c6c6c" stroke-width="1"/>
<text x="457.90" y="343.16" textLength="9.1" lengthAdjust="spacingAndGlyphs">95</text>
<text x="279.80" y="558.80" text-anchor="end" textLength="9.1" lengthAdjust="spacingAndGlyphs">99</text>
<text x="457.90" y="307.80" textLength="9.1" lengthAdjust="spacingAndGlyphs">99</text>
<line x1="366.70" y1="355.31" x2="370.70" y2="355.31" stroke="#6c6c6c" stroke-width="1"/>
<text x="373.50" y="357.71" textLength="20.1" lengthAdjust="spacingAndGlyphs">1,000</text>
<line x1="366.70" y1="362.84" x2="370.70" y2="362.84" stroke="#6c6c6c" stroke-width="1"/>
<text x="373.50" y="365.24" textLength="13.7" lengthAdjust="spacingAndGlyphs">500</text>
<line x1="366.70" y1="371.39" x2="370.70" y2="371.39" stroke="#6c6c6c" stroke-width="1"/>
<text x="373.50" y="373.79" textLength="13.7" lengthAdjust="spacingAndGlyphs">200</text>
<line x1="366.70" y1="380.32" x2="370.70" y2="380.32" stroke="#6c6c6c" stroke-width="1"/>
<text x="373.50" y="382.72" textLength="13.7" lengthAdjust="spacingAndGlyphs">100</text>
<line x1="366.70" y1="387.85" x2="370.70" y2="387.85" stroke="#6c6c6c" stroke-width="1"/>
<text x="373.50" y="390.25" textLength="9.1" lengthAdjust="spacingAndGlyphs">50</text>
<line x1="366.70" y1="396.31" x2="370.70" y2="396.31" stroke="#6c6c6c" stroke-width="1"/>
<text x="373.50" y="398.71" textLength="9.1" lengthAdjust="spacingAndGlyphs">20</text>
<line x1="366.70" y1="405.34" x2="370.70" y2="405.34" stroke="#6c6c6c" stroke-width="1"/>
<text x="373.50" y="407.74" textLength="9.1" lengthAdjust="spacingAndGlyphs">10</text>
<line x1="366.70" y1="412.87" x2="370.70" y2="412.87" stroke="#6c6c6c" stroke-width="1"/>
<text x="373.50" y="415.27" textLength="4.6" lengthAdjust="spacingAndGlyphs">5</text>
<line x1="366.70" y1="421.32" x2="370.70" y2="421.32" stroke="#6c6c6c" stroke-width="1"/>
<text x="373.50" y="423.72" textLength="4.6" lengthAdjust="spacingAndGlyphs">2</text>
<line x1="366.70" y1="430.35" x2="370.70" y2="430.35" stroke="#6c6c6c" stroke-width="1"/>
<text x="373.50" y="432.75" textLength="4.6" lengthAdjust="spacingAndGlyphs">1</text>
<line x1="366.70" y1="437.88" x2="370.70" y2="437.88" stroke="#6c6c6c" stroke-width="1"/>
<text x="373.50" y="440.28" textLength="11.0" lengthAdjust="spacingAndGlyphs">0.5</text>
<line x1="366.70" y1="447.44" x2="370.70" y2="447.44" stroke="#6c6c6c" stroke-width="1"/>
<text x="373.50" y="449.84" textLength="11.0" lengthAdjust="spacingAndGlyphs">0.2</text>
<line x1="366.70" y1="455.67" x2="370.70" y2="455.67" stroke="#6c6c6c" stroke-width="1"/>
<text x="373.50" y="458.07" textLength="11.0" lengthAdjust="spacingAndGlyphs">0.1</text>
<line x1="366.70" y1="462.60" x2="370.70" y2="462.60" stroke="#6c6c6c" stroke-width="1"/>
<text x="373.50" y="465.00" textLength="15.5" lengthAdjust="spacingAndGlyphs">0.05</text>
<line x1="366.70" y1="472.45" x2="370.70" y2="472.45" stroke="#6c6c6c" stroke-width="1"/>
<text x="373.50" y="474.85" textLength="15.5" lengthAdjust="spacingAndGlyphs">0.02</text>
<line x1="366.70" y1="480.08" x2="370.70" y2="480.08" stroke="#6c6c6c" stroke-width="1"/>
<text x="373.50" y="482.48" textLength="15.5" lengthAdjust="spacingAndGlyphs">0.01</text>
<line x1="366.70" y1="487.61" x2="370.70" y2="487.61" stroke="#6c6c6c" stroke-width="1"/>
<text x="373.50" y="490.01" textLength="20.1" lengthAdjust="spacingAndGlyphs">0.005</text>
<line x1="366.70" y1="497.87" x2="370.70" y2="497.87" stroke="#6c6c6c" stroke-width="1"/>
<text x="373.50" y="500.27" textLength="20.1" lengthAdjust="spacingAndGlyphs">0.002</text>
<line x1="366.70" y1="505.40" x2="370.70" y2="505.40" stroke="#6c6c6c" stroke-width="1"/>
<text x="373.50" y="507.80" textLength="20.1" lengthAdjust="spacingAndGlyphs">0.001</text>
<line x1="286.00" y1="451.55" x2="450.50" y2="381.30" stroke="#36369a" stroke-width="0.85"/>
<line x1="286.00" y1="451.55" x2="450.50" y2="444.60" stroke="#d96a2a" stroke-width="0.85"/>
<path d="M364.50 414.40V412.10H372.50V414.40M364.50 418.00V420.30H372.50V418.00" fill="none" stroke="#36369a" stroke-width="0.65"/>
<path d="M364.50 444.40V441.40H372.50V444.40M364.50 451.70V454.70H372.50V451.70" fill="none" stroke="#d96a2a" stroke-width="0.65"/>
<path d="M446.65 374.90V372.40H454.45V374.90M446.65 388.00V390.50H454.45V388.00" fill="none" stroke="#36369a" stroke-width="0.65"/>
<path d="M446.65 434.90V431.50H454.45V434.90M446.65 455.00V458.40H454.45V455.00" fill="none" stroke="#d96a2a" stroke-width="0.65"/>
<text x="286.00" y="565.80" text-anchor="middle" textLength="17.1" lengthAdjust="spacingAndGlyphs">Prior</text>
<text x="286.00" y="575.80" text-anchor="middle" textLength="38.9" lengthAdjust="spacingAndGlyphs">probability</text>
<text x="368.80" y="565.80" text-anchor="middle" textLength="9.0" lengthAdjust="spacingAndGlyphs">LR</text>
<text x="450.60" y="565.70" text-anchor="middle" textLength="32.7" lengthAdjust="spacingAndGlyphs">Posterior</text>
<text x="450.60" y="575.60" text-anchor="middle" textLength="38.8" lengthAdjust="spacingAndGlyphs">probability</text>
<text x="257.30" y="575.80" class="pl">d</text>
</g>
</svg>
</body></html>
